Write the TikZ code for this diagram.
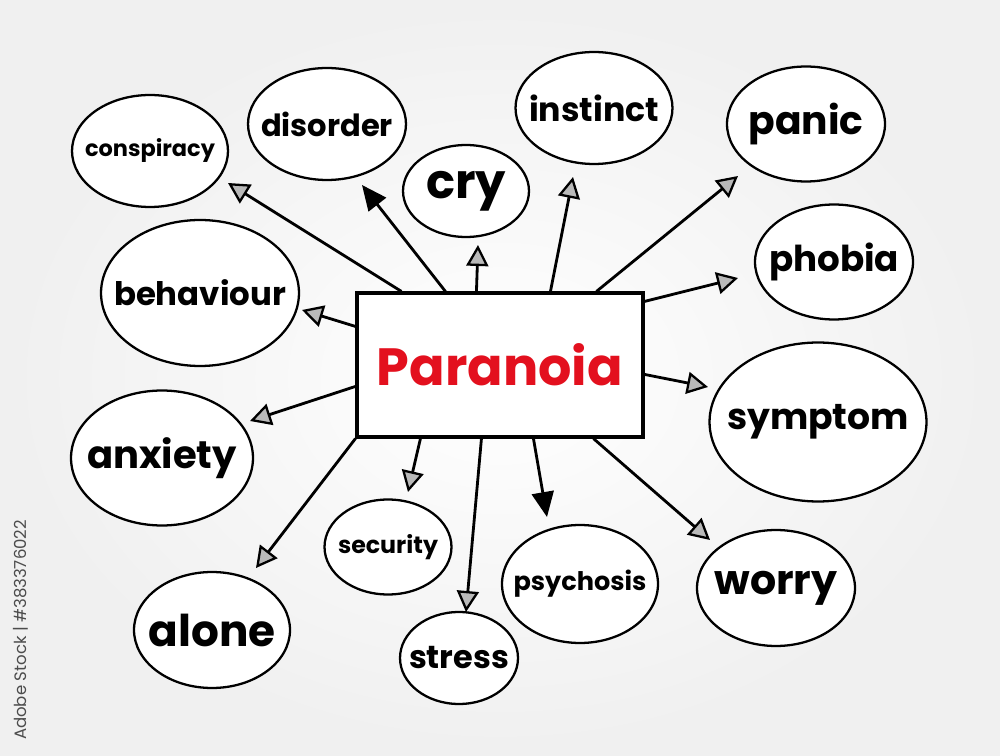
\documentclass[tikz,border=0pt]{standalone}
\usepackage{fontspec}
\setmainfont{Poppins}
\usetikzlibrary{shapes.geometric,arrows.meta,calc}
\newcommand{\wlab}[2]{\resizebox{#1cm}{!}{\bfseries #2}}
\definecolor{parred}{HTML}{E3101E}
\tikzset{
  bub/.style={ellipse, draw=black, line width=1.3pt, fill=white, inner sep=0pt},
  mainbox/.style={rectangle, draw=black, line width=1.8pt, fill=white, inner sep=0pt,
    minimum width=5.72cm, minimum height=2.88cm},
  arr/.style={line width=1.6pt, -{Triangle[length=0.42cm, width=0.44cm, fill=gray!55, line width=1.3pt]}},
  arrf/.style={line width=1.6pt, -{Triangle[length=0.5cm, width=0.44cm, fill=black]}},
}
\begin{document}
\begin{tikzpicture}[x=0.02cm, y=-0.02cm]
\useasboundingbox (0,0) rectangle (1000,756);
\shade[inner color=white, outer color=gray!12] (0,0) rectangle (1000,756);

% watermark
\node[rotate=90, text=black!70, inner sep=0pt] (wm) at (21,630)
  {\resizebox{4.4cm}{!}{Adobe Stock \textbar{} \#383376022}};

% central box
\node[mainbox] (P) at (500,365) {\textcolor{parred}{\wlab{4.92}{Paranoia}}};

% bubbles
\node[bub, minimum width=3.12cm, minimum height=2.24cm, label=center:{\wlab{2.6}{conspiracy}}] (consp) at (150,151) {};
\node[bub, minimum width=3.16cm, minimum height=2.24cm, label=center:{\wlab{2.64}{disorder}}] (disord) at (327,124) {};
\node[bub, minimum width=2.52cm, minimum height=1.84cm, label=center:{\wlab{1.6}{cry}}] (cry) at (466,191) {};
\node[bub, minimum width=3.14cm, minimum height=2.24cm, label=center:{\wlab{2.6}{instinct}}] (inst) at (594,108) {};
\node[bub, minimum width=3.16cm, minimum height=2.3cm, label=center:{\wlab{2.3}{panic}}] (panic) at (806,124) {};
\node[bub, minimum width=3.16cm, minimum height=2.3cm, label=center:{\wlab{2.6}{phobia}}] (phob) at (834,262) {};
\node[bub, minimum width=3.96cm, minimum height=2.92cm, label=center:{\wlab{3.44}{behaviour}}] (behav) at (200,293) {};
\node[bub, minimum width=4.34cm, minimum height=3.18cm, label=center:{\wlab{3.64}{symptom}}] (sympt) at (818,422) {};
\node[bub, minimum width=3.64cm, minimum height=2.7cm, label=center:{\wlab{3.0}{anxiety}}] (anx) at (162,458) {};
\node[bub, minimum width=2.54cm, minimum height=1.9cm, label=center:{\wlab{2.0}{security}}] (secur) at (388,547) {};
\node[bub, minimum width=3.12cm, minimum height=2.36cm, label=center:{\wlab{2.66}{psychosis}}] (psych) at (580,584) {};
\node[bub, minimum width=3.16cm, minimum height=2.32cm, label=center:{\wlab{2.46}{worry}}] (worry) at (776,588) {};
\node[bub, minimum width=3.12cm, minimum height=2.32cm, label=center:{\wlab{2.54}{alone}}] (alone) at (212,630) {};
\node[bub, minimum width=2.36cm, minimum height=1.84cm, label=center:{\wlab{2.0}{stress}}] (stress) at (459,658) {};

% start points on the box
\coordinate (s1) at ($(P.north west)+(46,0)$);
\coordinate (s2) at ($(P.north west)+(90,0)$);
\coordinate (s3) at ($(P.north west)+(121,0)$);
\coordinate (s4) at ($(P.north west)+(195,0)$);
\coordinate (s5) at ($(P.north west)+(241,0)$);
\coordinate (s6) at ($(P.north east)+(0,10)$);
\coordinate (s7) at ($(P.north west)+(0,35)$);
\coordinate (s8) at ($(P.north east)+(0,83)$);
\coordinate (s9) at ($(P.north west)+(0,95)$);
\coordinate (s10) at (P.south west);
\coordinate (s11) at ($(P.south west)+(65,0)$);
\coordinate (s12) at ($(P.south west)+(126,0)$);
\coordinate (s13) at ($(P.south west)+(178,0)$);
\coordinate (s14) at ($(P.south west)+(238,0)$);

% arrow tips
\coordinate (t1) at (228,183);
\coordinate (t2) at (362,185);
\coordinate (t3) at (478,245);
\coordinate (t4) at (573,177);
\coordinate (t5) at (738,176);
\coordinate (t6) at (738,278);
\coordinate (t7) at (302,310);
\coordinate (t8) at (708,387);
\coordinate (t9) at (250,421);
\coordinate (t10) at (256,568);
\coordinate (t11) at (408,492);
\coordinate (t12) at (466,612);
\coordinate (t13) at (547,517);
\coordinate (t14) at (710,540);

\draw[arr] (s1) -- (t1);
\draw[arrf] (s2) -- (t2);
\draw[arr] (s3) -- (t3);
\draw[arr] (s4) -- (t4);
\draw[arr] (s5) -- (t5);
\draw[arr] (s6) -- (t6);
\draw[arr] (s7) -- (t7);
\draw[arr] (s8) -- (t8);
\draw[arr] (s9) -- (t9);
\draw[arr] (s10) -- (t10);
\draw[arr] (s11) -- (t11);
\draw[arr] (s12) -- (t12);
\draw[arrf] (s13) -- (t13);
\draw[arr] (s14) -- (t14);
\end{tikzpicture}
\end{document}
